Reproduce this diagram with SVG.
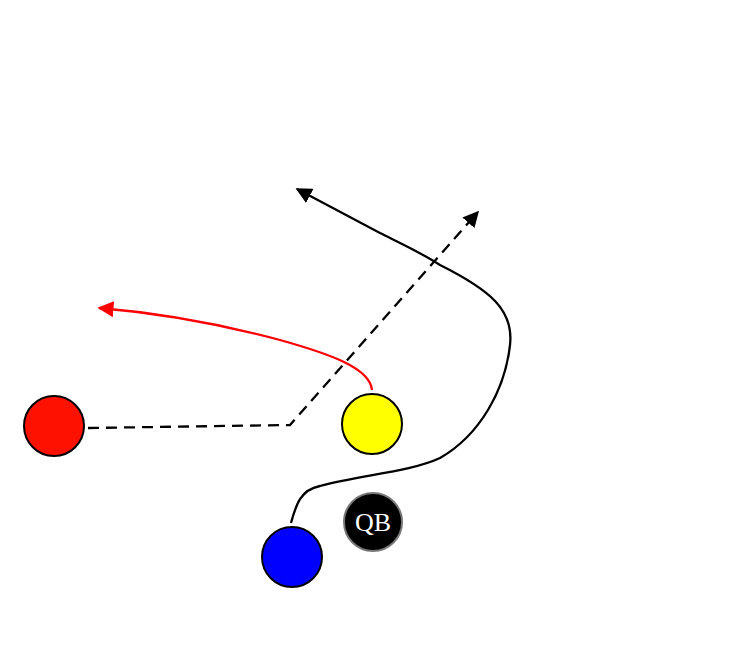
<svg xmlns="http://www.w3.org/2000/svg" width="750" height="655" viewBox="0 0 750 655">
<defs>
<marker id="ab" viewBox="0 0 10 10" refX="9" refY="5" markerWidth="7" markerHeight="7" markerUnits="strokeWidth" orient="auto"><path d="M0,0 L10,5 L0,10 z" fill="#000"/></marker>
<marker id="ar" viewBox="0 0 10 10" refX="9" refY="5" markerWidth="7" markerHeight="7" markerUnits="strokeWidth" orient="auto"><path d="M0,0 L10,5 L0,10 z" fill="#f00"/></marker>
</defs>
<style>
.p{stroke:#000;stroke-width:2.3;fill:none}
.player{stroke:#000;stroke-width:2}
</style>
<rect width="750" height="655" fill="#fff"/>
<g id="connectors">
<path class="p" d="M88,428 L290,425 L478,212" stroke-dasharray="11,7" marker-end="url(#ab)"/>
<path d="M372,390 C370,368 330,354 280,340 C220,324 160,313 99,308" stroke="#f00" stroke-width="2.3" fill="none" marker-end="url(#ar)"/>
<path class="p" d="M291,523 C296,505 300,490 320,486 C360,475 410,472 440,458 C480,435 505,390 510,345 C514,310 490,290 440,265 C420,252 400,243 380,233 L297,189" marker-end="url(#ab)"/>
</g>
<g id="red"><circle class="player" cx="54" cy="426" r="30" fill="#ff1100"/></g>
<g id="yellow"><circle class="player" cx="372" cy="424" r="30" fill="#ffff00"/></g>
<g id="blue"><circle class="player" cx="292" cy="557" r="30" fill="#0000ff"/></g>
<g id="qb"><circle cx="373" cy="522" r="29" fill="#000" stroke="#777" stroke-width="2"/>
<text x="373" y="531" text-anchor="middle" font-family="Liberation Serif, serif" font-size="26" fill="#fff">QB</text></g>
</svg>
